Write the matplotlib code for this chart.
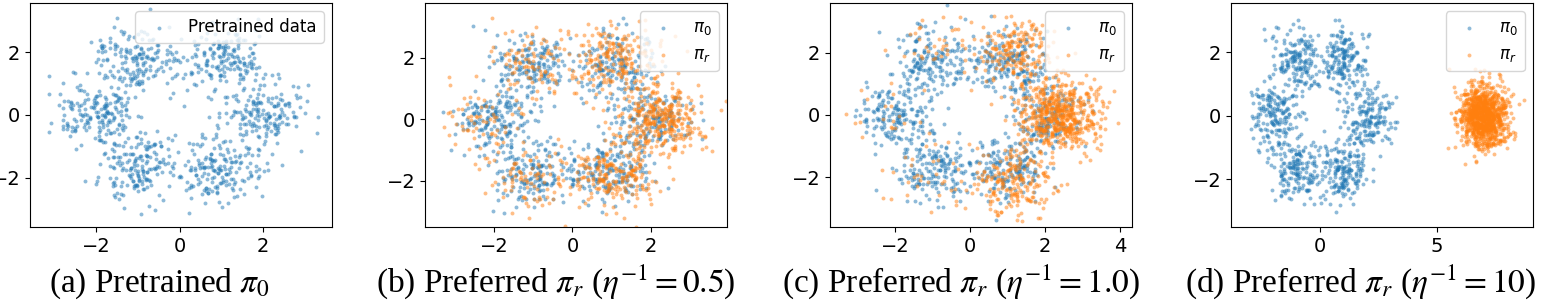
import matplotlib
matplotlib.use("Agg")
import matplotlib.pyplot as plt
import numpy as np

# cluster layout (six gaussians on a ring of radius ~2)
ring_x = [2.0, 1.0, -1.0, -2.0, -1.0, 1.0]
ring_y = [0.0, 1.73, 1.73, 0.0, -1.73, -1.73]
ring_std = 0.52
pretrained_counts = [170, 170, 170, 170, 170, 170]

# preferred policy: how many orange points sit near each ring cluster
pref_b_counts = [330, 200, 90, 60, 90, 200]
pref_b_scale = 1.1
pref_b_std = 0.55
pref_c_counts = [560, 190, 30, 20, 30, 210]
pref_c_scale = 1.2
pref_c_std = 0.55

# eta^-1 = 10: a single blob far to the right
pref_d_x = [7.0]
pref_d_y = [0.0]
pref_d_counts = [1000]
pref_d_std = 0.5

captions = [r"(a) Pretrained $\pi_0$",
            r"(b) Preferred $\pi_r$ ($\eta^{-1} = 0.5$)",
            r"(c) Preferred $\pi_r$ ($\eta^{-1} = 1.0$)",
            r"(d) Preferred $\pi_r$ ($\eta^{-1} = 10$)"]

# the single points can't be read from the image, so each cloud is drawn
# as a fixed-seed sample of the clusters estimated above
rng = np.random.default_rng(3)


def sample(cx, cy, counts, std, scale=1.0):
    xs, ys = [], []
    for x0, y0, n in zip(cx, cy, counts):
        xs.append(rng.normal(x0 * scale, std, n))
        ys.append(rng.normal(y0 * scale, std, n))
    return np.concatenate(xs), np.concatenate(ys)


fig = plt.figure(figsize=(15.45, 3.0), dpi=100)
lefts = [30, 425, 830, 1231]
W, H = 1545, 300
axes = [fig.add_axes([l / W, 1 - 227 / H, 302 / W, 224 / H]) for l in lefts]

xlims = [(-3.58, 3.65), (-3.76, 3.94), (-3.73, 4.32), (-3.84, 9.14)]
ylims = [(-3.58, 3.58), (-3.5, 3.77), (-3.61, 3.61), (-3.5, 3.56)]
xticks = [[-2, 0, 2], [-2, 0, 2], [-2, 0, 2, 4], [0, 5]]

kw = dict(s=8, alpha=0.5, linewidths=0)

x0, y0 = sample(ring_x, ring_y, pretrained_counts, ring_std)
axes[0].scatter(x0, y0, color="tab:blue", label="Pretrained data", **kw)

pref = [sample(ring_x, ring_y, pref_b_counts, pref_b_std, pref_b_scale),
        sample(ring_x, ring_y, pref_c_counts, pref_c_std, pref_c_scale),
        sample(pref_d_x, pref_d_y, pref_d_counts, pref_d_std)]

for ax, (xr, yr) in zip(axes[1:], pref):
    xb, yb = sample(ring_x, ring_y, pretrained_counts, ring_std)
    ax.scatter(xb, yb, color="tab:blue", label=r"$\pi_0$", **kw)
    ax.scatter(xr, yr, color="tab:orange", label=r"$\pi_r$", **kw)

for i, ax in enumerate(axes):
    ax.set_xlim(xlims[i])
    ax.set_ylim(ylims[i])
    ax.set_xticks(xticks[i])
    ax.set_yticks([-2, 0, 2])
    ax.tick_params(labelsize=14)
    ax.legend(loc="upper right", fontsize=12, scatterpoints=1)

cap_x = [159, 556, 961, 1361]
for cx, txt in zip(cap_x, captions):
    fig.text(cx / W, 1 - 292 / H, txt, ha="center", va="baseline",
             fontsize=24, family="Liberation Serif", math_fontfamily="stix")

fig.savefig("out.png", dpi=100)
